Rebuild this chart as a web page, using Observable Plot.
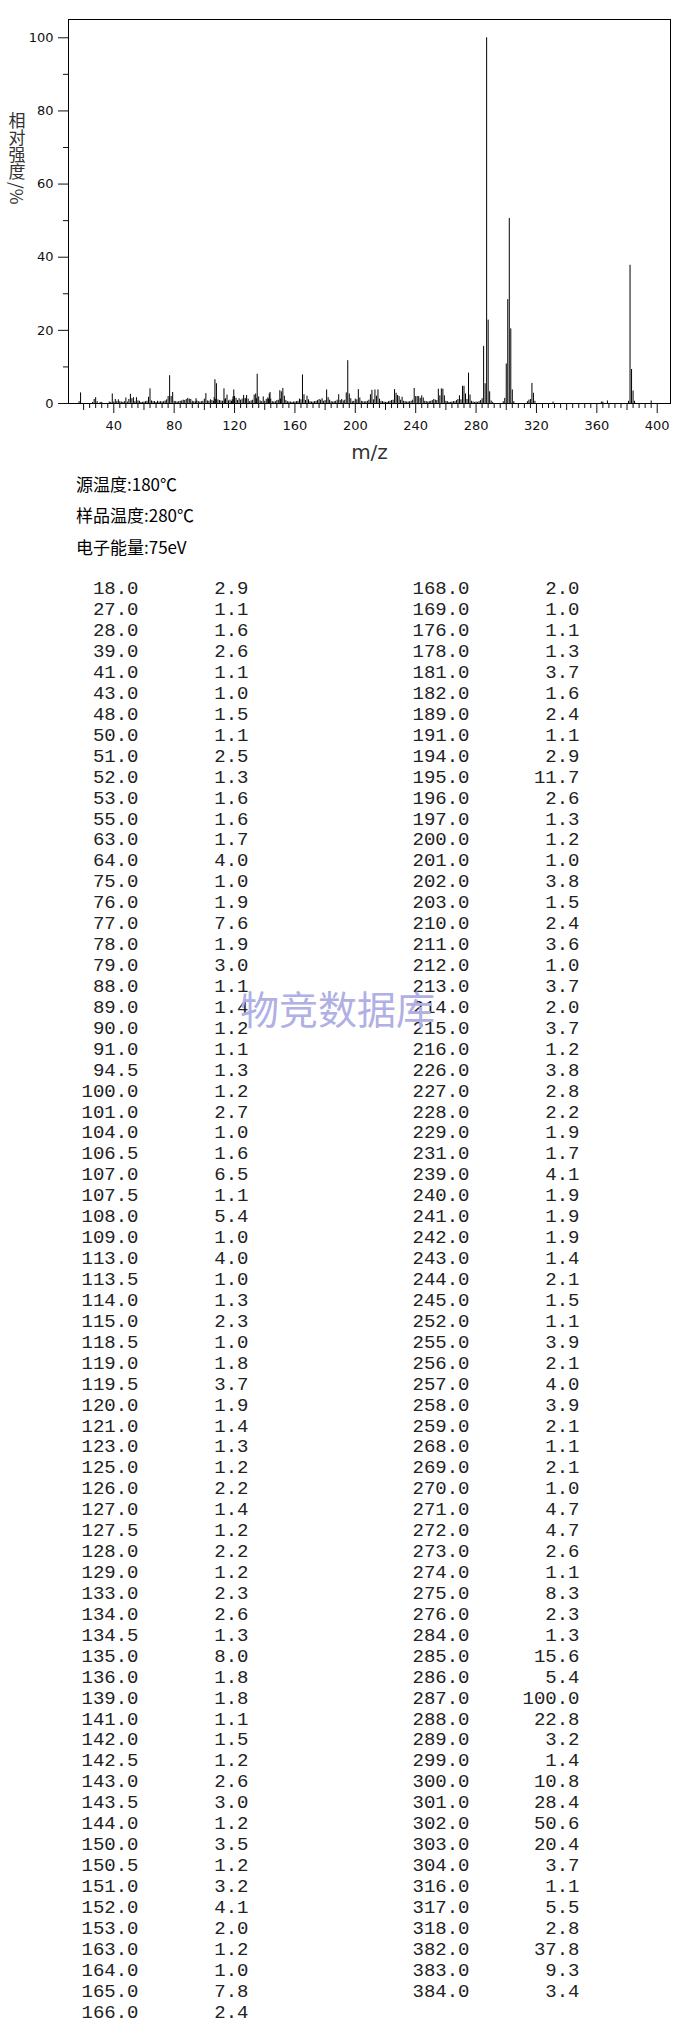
<!DOCTYPE html>
<html><head><meta charset="utf-8">
<script src="https://cdn.jsdelivr.net/npm/d3@7"></script>
<script src="https://cdn.jsdelivr.net/npm/@observablehq/plot@0.6"></script>
<style>
body{margin:0;background:#fff;}
#page{position:relative;width:680px;height:2018px;overflow:hidden;background:#fff;}
#chart{position:absolute;left:0;top:0;}
.info{position:absolute;left:76px;font-family:"Noto Sans CJK SC";font-size:17px;color:#000;white-space:nowrap;height:24px;line-height:24px;}
.cell{position:absolute;font-family:"Liberation Mono";font-size:19px;color:#222;white-space:pre;height:21px;line-height:21px;text-align:right;}
#wm{position:absolute;left:240px;top:982px;width:200px;height:50px;line-height:50px;font-family:"Noto Sans CJK SC";font-size:39px;color:rgb(176,176,228);white-space:nowrap;}
</style></head>
<body><div id="page"><div id="chart"></div></div>
<script>
// ---- data: table peaks (left and right columns) ----
const mzLeft = [18,27,28,39,41,43,48,50,51,52,53,55,63,64,75,76,77,78,79,88,89,90,91,94.5,100,101,104,106.5,107,107.5,108,109,113,113.5,114,115,118.5,119,119.5,120,121,123,125,126,127,127.5,128,129,133,134,134.5,135,136,139,141,142,142.5,143,143.5,144,150,150.5,151,152,153,163,164,165,166];
const intLeft = [2.9,1.1,1.6,2.6,1.1,1.0,1.5,1.1,2.5,1.3,1.6,1.6,1.7,4.0,1.0,1.9,7.6,1.9,3.0,1.1,1.4,1.2,1.1,1.3,1.2,2.7,1.0,1.6,6.5,1.1,5.4,1.0,4.0,1.0,1.3,2.3,1.0,1.8,3.7,1.9,1.4,1.3,1.2,2.2,1.4,1.2,2.2,1.2,2.3,2.6,1.3,8.0,1.8,1.8,1.1,1.5,1.2,2.6,3.0,1.2,3.5,1.2,3.2,4.1,2.0,1.2,1.0,7.8,2.4];
const mzRight = [168,169,176,178,181,182,189,191,194,195,196,197,200,201,202,203,210,211,212,213,214,215,216,226,227,228,229,231,239,240,241,242,243,244,245,252,255,256,257,258,259,268,269,270,271,272,273,274,275,276,284,285,286,287,288,289,299,300,301,302,303,304,316,317,318,382,383,384];
const intRight = [2.0,1.0,1.1,1.3,3.7,1.6,2.4,1.1,2.9,11.7,2.6,1.3,1.2,1.0,3.8,1.5,2.4,3.6,1.0,3.7,2.0,3.7,1.2,3.8,2.8,2.2,1.9,1.7,4.1,1.9,1.9,1.9,1.4,2.1,1.5,1.1,3.9,2.1,4.0,3.9,2.1,1.1,2.1,1.0,4.7,4.7,2.6,1.1,8.3,2.3,1.3,15.6,5.4,100.0,22.8,3.2,1.4,10.8,28.4,50.6,20.4,3.7,1.1,5.5,2.8,37.8,9.3,3.4];
// ---- minor peaks (<1 %) ----
const minorMz = [17,26,29,31,32,37,38,40,42,44,45,46,47,49,54,56,57,58,59,60,61,62,65,66,67,68,69,70,71,72,73,74,80,81,82,83,84,85,86,87,92,93,94,95,96,97,98,99,102,103,105,106,110,111,112,116,117,118,122,124,130,131,132,137,138,140,145,146,147,148,149,154,155,156,157,158,159,160,161,162,167,170,171,172,173,174,175,177,179,180,183,184,185,186,187,188,190,192,193,198,199,204,205,206,207,208,209,217,218,219,220,221,222,223,224,225,230,232,233,234,235,236,237,238,246,247,248,249,250,251,253,254,260,261,262,263,264,265,266,267,277,278,279,280,281,282,283,290,291,298,305,314,315,319,331,363,364,367,381,385,396];
const minorInt = [0.5,0.3,0.5,0.3,0.3,0.4,0.3,0.4,0.5,0.5,0.4,0.3,0.5,0.4,0.5,0.7,0.6,0.3,0.3,0.4,0.5,0.6,0.7,0.5,0.5,0.3,0.6,0.4,0.5,0.4,0.5,0.7,0.6,0.5,0.4,0.5,0.6,0.7,0.9,0.8,0.6,0.5,0.4,0.7,0.5,0.4,0.5,0.6,0.7,0.6,0.8,0.6,0.8,0.7,0.6,0.7,0.9,0.6,0.8,0.9,0.5,0.7,0.9,0.7,0.5,0.6,0.5,0.4,0.5,0.8,0.9,0.8,0.5,0.4,0.4,0.3,0.4,0.4,0.5,0.6,0.8,0.5,0.4,0.4,0.5,0.6,0.8,0.9,0.6,0.8,0.9,0.5,0.4,0.5,0.6,0.9,0.8,0.7,0.9,0.5,0.6,0.6,0.5,0.4,0.5,0.6,0.9,0.6,0.5,0.4,0.3,0.3,0.5,0.6,0.8,0.9,0.9,0.6,0.5,0.4,0.4,0.5,0.6,0.9,0.6,0.5,0.4,0.5,0.6,0.8,0.9,0.8,0.6,0.5,0.3,0.3,0.4,0.5,0.5,0.8,0.6,0.4,0.3,0.4,0.3,0.5,0.8,0.7,0.3,0.5,0.5,0.5,0.9,0.6,0.4,0.4,0.4,0.7,0.6,0.6,0.7];
// ---- ticks and texts ----
const yTicksMajor = [0,20,40,60,80,100];
const yTicksMinor = [10,30,50,70,90];
const xTicksLong = [40,80,120,160,200,240,280,320,360,400];
const xTicksMid = [20,60,100,140,180,220,260,300,340,380];
const xTicksShort = d3.range(20, 401, 4).filter(v => v % 20 !== 0);
const xLabel = "m/z";
const yLabelChars = ["相", "对", "强", "度"];
const yLabelTail = "/%";
const infoLines = ["源温度:180℃", "样品温度:280℃", "电子能量:75eV"];
const watermark = "物竞数据库";

const peaks = mzLeft.map((m,k)=>({mz:m, v:intLeft[k]}))
  .concat(mzRight.map((m,k)=>({mz:m, v:intRight[k]})))
  .concat(minorMz.map((m,k)=>({mz:m, v:minorInt[k]})));

const svg = Plot.plot({
  width: 680, height: 470,
  marginLeft: 68, marginRight: 10, marginTop: 19, marginBottom: 67,
  style: {fontFamily: "DejaVu Sans", fontSize: "13px", color: "#111", background: "#fff"},
  x: {domain: [10, 408.8]},
  y: {domain: [0, 105]},
  marks: [
    Plot.ruleX(peaks, {x: "mz", y1: 0, y2: "v", stroke: "#000", strokeWidth: 1}),
    Plot.frame({stroke: "#000"}),
    Plot.axisY(yTicksMajor, {tickSize: 10, tickPadding: 5, label: null}),
    Plot.axisY(yTicksMinor, {tickSize: 5, tickFormat: () => "", label: null}),
    Plot.axisX(xTicksShort, {tickSize: 5, tickFormat: () => "", label: null}),
    Plot.axisX(xTicksMid, {tickSize: 7, tickFormat: () => "", label: null}),
    Plot.axisX(xTicksLong, {tickSize: 10, tickPadding: 7, label: null}),
    Plot.text([xLabel], {frameAnchor: "bottom", dy: 49, lineAnchor: "middle", fontSize: 20, fill: "#333"})
  ]
});
// vertical y-axis label: upright CJK characters, then "/%" turned 90°
const g = d3.select(svg).append("g")
  .attr("fill", "#333")
  .style("font-family", "Noto Sans CJK SC")
  .style("font-size", "17px");
yLabelChars.forEach((c, k) => {
  g.append("text").attr("x", 17).attr("y", 127 + k * 17)
    .attr("text-anchor", "middle").text(c);
});
g.append("text")
  .attr("transform", "translate(17,182) rotate(90)")
  .attr("dominant-baseline", "central")
  .attr("text-anchor", "start")
  .text(yLabelTail);
document.getElementById("chart").appendChild(svg);

const page = document.getElementById("page");
const infoTops = [471.5, 502.5, 534.5];
infoLines.forEach((t, k) => {
  const d = document.createElement("div");
  d.className = "info"; d.style.top = infoTops[k] + "px"; d.textContent = t;
  page.appendChild(d);
});

function addCell(text, right, top) {
  const d = document.createElement("div");
  d.className = "cell";
  d.style.left = (right - 120) + "px"; d.style.width = "120px";
  d.style.top = top + "px"; d.textContent = text;
  page.appendChild(d);
}
const rowTop0 = 579.3, pitch = 20.93;
mzLeft.forEach((m, k) => {
  const top = rowTop0 + k * pitch;
  addCell(m.toFixed(1), 138.5, top);
  addCell(intLeft[k].toFixed(1), 248.5, top);
});
mzRight.forEach((m, k) => {
  const top = rowTop0 + k * pitch;
  addCell(m.toFixed(1), 469.5, top);
  addCell(intRight[k].toFixed(1), 579.5, top);
});
const wm = document.createElement("div");
wm.id = "wm"; wm.textContent = watermark;
page.appendChild(wm);
</script>
</body></html>
